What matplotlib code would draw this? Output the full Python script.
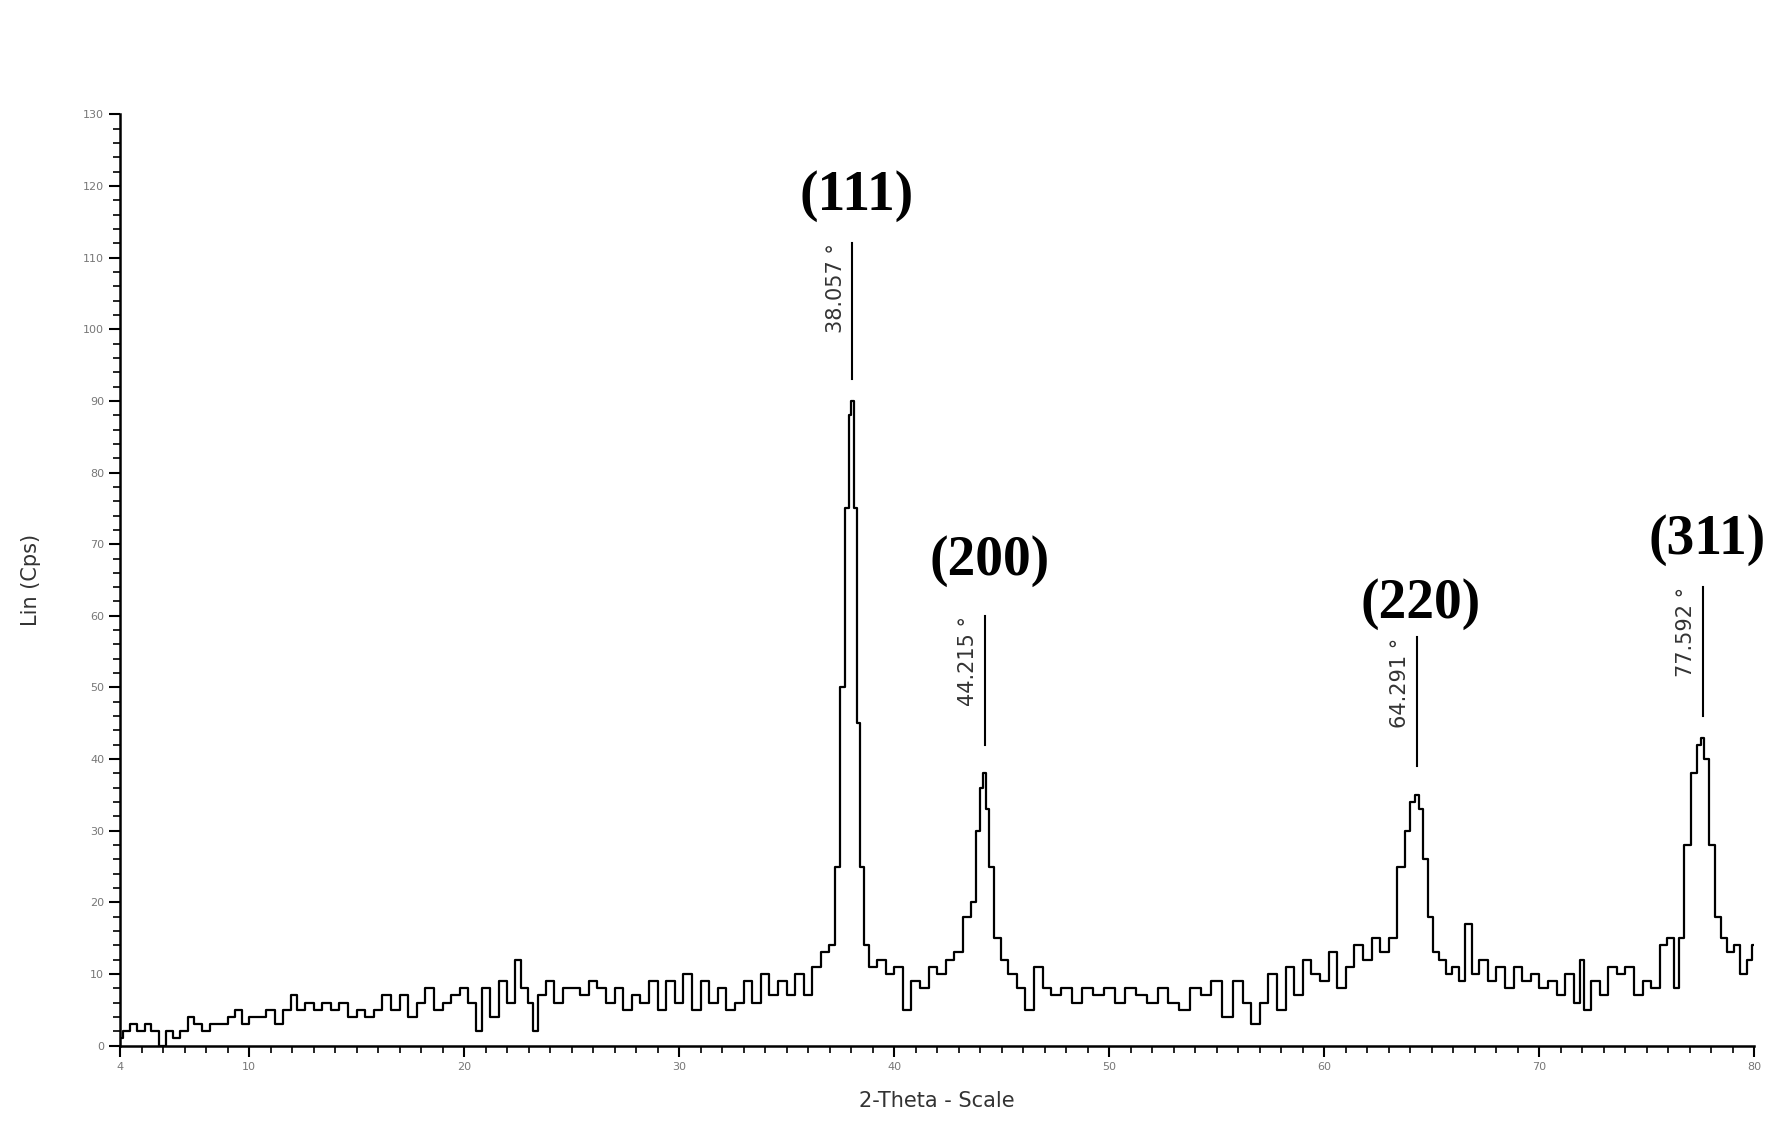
import matplotlib.pyplot as plt
from matplotlib.ticker import MultipleLocator

# 2-theta (deg) and intensity (Cps)
two_theta = [4.0, 4.3, 4.6, 5.0, 5.3, 5.6, 6.0, 6.3, 6.6, 7.0, 7.3, 7.6, 8.0, 8.4, 8.8, 9.2, 9.5, 9.8,
             10.2, 10.6, 11.0, 11.4, 11.8, 12.1, 12.4, 12.8, 13.2, 13.6, 14.0, 14.4, 14.8, 15.2, 15.6,
             16.0, 16.4, 16.8, 17.2, 17.6, 18.0, 18.4, 18.8, 19.2, 19.6, 20.0, 20.4, 20.7, 21.0, 21.4,
             21.8, 22.2, 22.5, 22.8, 23.1, 23.3, 23.6, 24.0, 24.4, 24.8, 25.2, 25.6, 26.0, 26.4, 26.8,
             27.2, 27.6, 28.0, 28.4, 28.8, 29.2, 29.6, 30.0, 30.4, 30.8, 31.2, 31.6, 32.0, 32.4, 32.8,
             33.2, 33.6, 34.0, 34.4, 34.8, 35.2, 35.6, 36.0, 36.4, 36.8, 37.1, 37.4, 37.6, 37.8, 37.95,
             38.06, 38.2, 38.35, 38.5, 38.7, 39.0, 39.4, 39.8, 40.2, 40.6, 41.0, 41.4, 41.8, 42.2, 42.6,
             43.0, 43.4, 43.7, 43.9, 44.05, 44.2, 44.35, 44.5, 44.8, 45.1, 45.5, 45.9, 46.3, 46.7, 47.1,
             47.5, 48.0, 48.5, 49.0, 49.5, 50.0, 50.5, 51.0, 51.5, 52.0, 52.5, 53.0, 53.5, 54.0, 54.5,
             55.0, 55.5, 56.0, 56.4, 56.8, 57.2, 57.6, 58.0, 58.4, 58.8, 59.2, 59.6, 60.0, 60.4, 60.8,
             61.2, 61.6, 62.0, 62.4, 62.8, 63.2, 63.6, 63.9, 64.1, 64.3, 64.5, 64.7, 64.95, 65.2, 65.5,
             65.8, 66.1, 66.4, 66.7, 67.0, 67.4, 67.8, 68.2, 68.6, 69.0, 69.4, 69.8, 70.2, 70.6, 71.0,
             71.4, 71.8, 72.0, 72.2, 72.6, 73.0, 73.4, 73.8, 74.2, 74.6, 75.0, 75.4, 75.8, 76.1, 76.4,
             76.6, 76.9, 77.2, 77.45, 77.6, 77.75, 78.0, 78.3, 78.6, 78.9, 79.2, 79.5, 79.8, 80.0]
cps = [1, 2, 3, 2, 3, 2, 0, 2, 1, 2, 4, 3, 2, 3, 3, 4, 5, 3,
       4, 4, 5, 3, 5, 7, 5, 6, 5, 6, 5, 6, 4, 5, 4,
       5, 7, 5, 7, 4, 6, 8, 5, 6, 7, 8, 6, 2, 8, 4,
       9, 6, 12, 8, 6, 2, 7, 9, 6, 8, 8, 7, 9, 8, 6,
       8, 5, 7, 6, 9, 5, 9, 6, 10, 5, 9, 6, 8, 5, 6,
       9, 6, 10, 7, 9, 7, 10, 7, 11, 13, 14, 25, 50, 75, 88,
       90, 75, 45, 25, 14, 11, 12, 10, 11, 5, 9, 8, 11, 10, 12,
       13, 18, 20, 30, 36, 38, 33, 25, 15, 12, 10, 8, 5, 11, 8,
       7, 8, 6, 8, 7, 8, 6, 8, 7, 6, 8, 6, 5, 8, 7,
       9, 4, 9, 6, 3, 6, 10, 5, 11, 7, 12, 10, 9, 13, 8,
       11, 14, 12, 15, 13, 15, 25, 30, 34, 35, 33, 26, 18, 13, 12,
       10, 11, 9, 17, 10, 12, 9, 11, 8, 11, 9, 10, 8, 9, 7,
       10, 6, 12, 5, 9, 7, 11, 10, 11, 7, 9, 8, 14, 15, 8,
       15, 28, 38, 42, 43, 40, 28, 18, 15, 13, 14, 10, 12, 14]

peak_pos = [38.057, 44.215, 64.291, 77.592]
peak_text = ["38.057 °", "44.215 °", "64.291 °", "77.592 °"]
line_bottom = [93, 42, 39, 46]
line_top = [112, 60, 57, 64]
hkl = ["(111)", "(200)", "(220)", "(311)"]
hkl_y = [115, 64, 58, 67]

fig = plt.figure(figsize=(17.92, 11.44), dpi=100)
ax = fig.add_axes([0.067, 0.086, 0.912, 0.814])
ax.plot(two_theta, cps, color="black", lw=1.6, drawstyle="steps-mid")

for x, t, b, top, h, hy in zip(peak_pos, peak_text, line_bottom, line_top, hkl, hkl_y):
    ax.plot([x, x], [b, top], color="black", lw=1.5)
    ax.text(x - 0.3, top, t, rotation=90, ha="right", va="top", fontsize=15, color="#333333")
    ax.text(x + 0.2, hy, h, ha="center", va="bottom", fontsize=40, fontweight="bold",
            family="Liberation Serif")

ax.set_xlim(4, 80)
ax.set_ylim(0, 130)
ax.set_xticks([4, 10, 20, 30, 40, 50, 60, 70, 80])
ax.set_xticklabels(["4", "10", "20", "30", "40", "50", "60", "70", "80"])
ax.xaxis.set_minor_locator(MultipleLocator(1))
ax.set_yticks(range(0, 131, 10))
ax.yaxis.set_minor_locator(MultipleLocator(2))
ax.tick_params(which="major", length=8, width=1.5, labelsize=8, labelcolor="#777777", direction="out")
ax.tick_params(which="minor", length=5, width=1.2)
for s in ["top", "right"]:
    ax.spines[s].set_visible(False)
for s in ["left", "bottom"]:
    ax.spines[s].set_linewidth(1.8)
ax.set_xlabel("2-Theta - Scale", fontsize=15, color="#333333", labelpad=14)
ax.set_ylabel("Lin (Cps)", fontsize=15, color="#333333", labelpad=30)

fig.savefig("out.png", dpi=100)
